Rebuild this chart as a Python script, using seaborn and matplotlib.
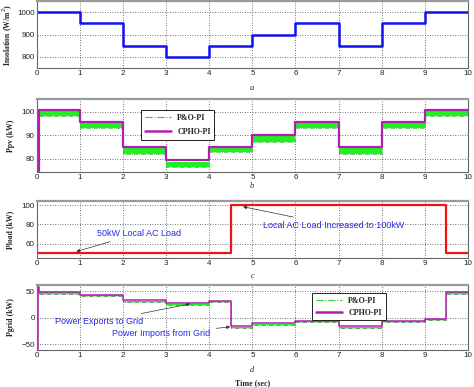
import numpy as np
import pandas as pd
import seaborn as sns
import matplotlib.pyplot as plt
from matplotlib.lines import Line2D

# ---- data ----
time_steps = [0, 1, 2, 3, 4, 5, 6, 7, 8, 9, 10]
insolation = [1000, 950, 850, 800, 850, 900, 950, 850, 950, 1000, 1000]

ppv_time = [0, 0.05, 1, 2, 3, 4, 5, 6, 7, 8, 9, 10]
ppv_cpho = [75, 101, 95.6, 85.2, 79.6, 85.2, 90.4, 95.6, 85.2, 95.6, 101, 101]
ppv_po_time = [0.05, 1, 2, 3, 4, 5, 6, 7, 8, 9, 10]
ppv_po_low = [98.5, 93.0, 82.2, 76.5, 82.8, 87.4, 93.0, 82.2, 93.0, 98.5, 98.5]
ppv_po_high = [100.6, 95.1, 84.6, 78.9, 84.6, 89.9, 95.1, 84.6, 95.1, 100.6, 100.6]

load_time = [0, 4.5, 9.5, 10]
pload = [50, 100, 50, 50]

grid_time = [0, 0.02, 0.05, 1, 2, 3, 4, 4.5, 5, 6, 7, 8, 9, 9.5, 10]
pgrid_cpho = [-60, 58, 49, 43.5, 32.5, 27.5, 32, -16, -11, -6, -16, -6, -2.5, 49, 49]
grid_po_time = [0.05, 1, 2, 3, 4, 4.5, 5, 6, 7, 8, 9, 9.5, 10]
pgrid_po_low = [45.5, 40.5, 29.5, 24.5, 29.5, -19.5, -14, -9, -19.5, -9, -5, 45.5, 45.5]
pgrid_po_high = [48, 42.5, 31.5, 26.5, 31, -17, -12, -7, -17, -7, -3.5, 48, 48]

x_ticks = list(range(0, 11))
panel_letters = ["a", "b", "c", "d"]
legend_labels = ["P&O-PI", "CPHO-PI"]

sns.set_style("white")
plt.rcParams['font.family'] = ['Liberation Sans', 'DejaVu Sans']
serif = ['Liberation Serif', 'DejaVu Serif']

fig = plt.figure(figsize=(4.74, 3.87), dpi=100)
left, width = 0.078, 0.909
ax_a = fig.add_axes([left, 0.824, width, 0.173])
ax_b = fig.add_axes([left, 0.556, width, 0.188])
ax_c = fig.add_axes([left, 0.333, width, 0.148])
ax_d = fig.add_axes([left, 0.096, width, 0.168])

blue = "#1010f0"
magenta = "#b41cb4"
green = "#1ff01f"
red = "#ee1414"
txt_blue = "#2828f0"


def style_axes(ax, ylim, yticks, ylabel):
    ax.set_xlim(0, 10)
    ax.set_ylim(*ylim)
    ax.set_xticks(x_ticks)
    ax.set_yticks(yticks)
    ax.grid(True, linestyle=(0, (1, 2)), color="#444444", linewidth=0.6)
    ax.tick_params(direction="in", labelsize=5.8, length=2, pad=1.5, colors="#222222")
    for s in ["left", "right", "bottom"]:
        ax.spines[s].set_color("#666666")
        ax.spines[s].set_linewidth(0.8)
    ax.spines["top"].set_color("#9a9a9a")
    ax.spines["top"].set_linewidth(1.6)
    ax.set_xlabel("")
    ax.set_ylabel(ylabel, fontsize=5.6, fontweight="bold", family=serif, labelpad=1)
    ax.yaxis.set_label_coords(-0.052, 0.5)


# a: insolation
sns.lineplot(x=time_steps, y=insolation, drawstyle="steps-post", color=blue,
             linewidth=1.8, estimator=None, ax=ax_a)
style_axes(ax_a, (750, 1050), [800, 900, 1000], "Insolation (W/m$^2$)")

# b: PV power
ax_b.fill_between(ppv_po_time, ppv_po_low, ppv_po_high, step="post", color=green, linewidth=0)
sns.lineplot(x=ppv_po_time, y=ppv_po_low, drawstyle="steps-post", color="#30c030",
             linewidth=0.5, linestyle="-.", estimator=None, ax=ax_b)
sns.lineplot(x=ppv_time, y=ppv_cpho, drawstyle="steps-post", color=magenta,
             linewidth=1.6, estimator=None, ax=ax_b)
style_axes(ax_b, (74.5, 105.5), [80, 90, 100], "Ppv (kW)")

handles = [Line2D([], [], color="#30d030", linestyle="-.", linewidth=0.8),
           Line2D([], [], color=magenta, linewidth=1.8)]
leg_kw = dict(frameon=True, fancybox=False, edgecolor="#222222", framealpha=1,
              prop={"family": serif, "weight": "bold", "size": 5.8},
              handlelength=3.2, borderpad=0.45, handletextpad=0.8)
lg = ax_b.legend(handles, legend_labels, loc="upper left", labelspacing=0.75,
                 bbox_to_anchor=(0.233, 0.9), **leg_kw)
lg.get_frame().set_linewidth(0.7)

# c: load
sns.lineplot(x=load_time, y=pload, drawstyle="steps-post", color=red,
             linewidth=1.6, estimator=None, ax=ax_c)
style_axes(ax_c, (45, 104.5), [60, 80, 100], "Pload (kW)")
arrow = dict(arrowstyle="-|>", color="#333333", linewidth=0.5, mutation_scale=5)
ax_c.annotate("50kW Local AC Load", xy=(0.85, 51), xytext=(1.4, 71),
              color=txt_blue, fontsize=6.5, ha="left", va="center", arrowprops=arrow)
ax_c.annotate("Local AC Load Increased to 100kW", xy=(4.72, 99), xytext=(5.25, 79),
              color=txt_blue, fontsize=6.5, ha="left", va="center", arrowprops=arrow)

# d: grid power
ax_d.fill_between(grid_po_time, pgrid_po_low, pgrid_po_high, step="post", color=green, linewidth=0)
sns.lineplot(x=grid_po_time, y=pgrid_po_low, drawstyle="steps-post", color="#208020",
             linewidth=0.5, linestyle="-.", estimator=None, ax=ax_d)
sns.lineplot(x=grid_time, y=pgrid_cpho, drawstyle="steps-post", color=magenta,
             linewidth=1.1, estimator=None, ax=ax_d)
style_axes(ax_d, (-61, 62), [-50, 0, 50], "Pgrid (kW)")
lg2 = ax_d.legend(handles, legend_labels, loc="upper left", labelspacing=0.45,
                  bbox_to_anchor=(0.63, 0.93), **leg_kw)
lg2.get_frame().set_linewidth(0.7)
ax_d.annotate("Power Exports to Grid", xy=(3.62, 27), xytext=(0.42, -8),
              color=txt_blue, fontsize=6.5, ha="left", va="center", arrowprops=arrow)
ax_d.annotate("Power Imports from Grid", xy=(4.55, -17), xytext=(1.74, -31),
              color=txt_blue, fontsize=6.5, ha="left", va="center", arrowprops=arrow)

for lab, y in zip(panel_letters, [0.773, 0.52, 0.287, 0.045]):
    fig.text(0.532, y, lab, fontsize=6, style="italic", family=serif, ha="center", va="center")
fig.text(0.532, 0.011, "Time (sec)", fontsize=5.8, fontweight="bold", family=serif,
         ha="center", va="center")

fig.savefig("out.png", dpi=100, facecolor="white")
